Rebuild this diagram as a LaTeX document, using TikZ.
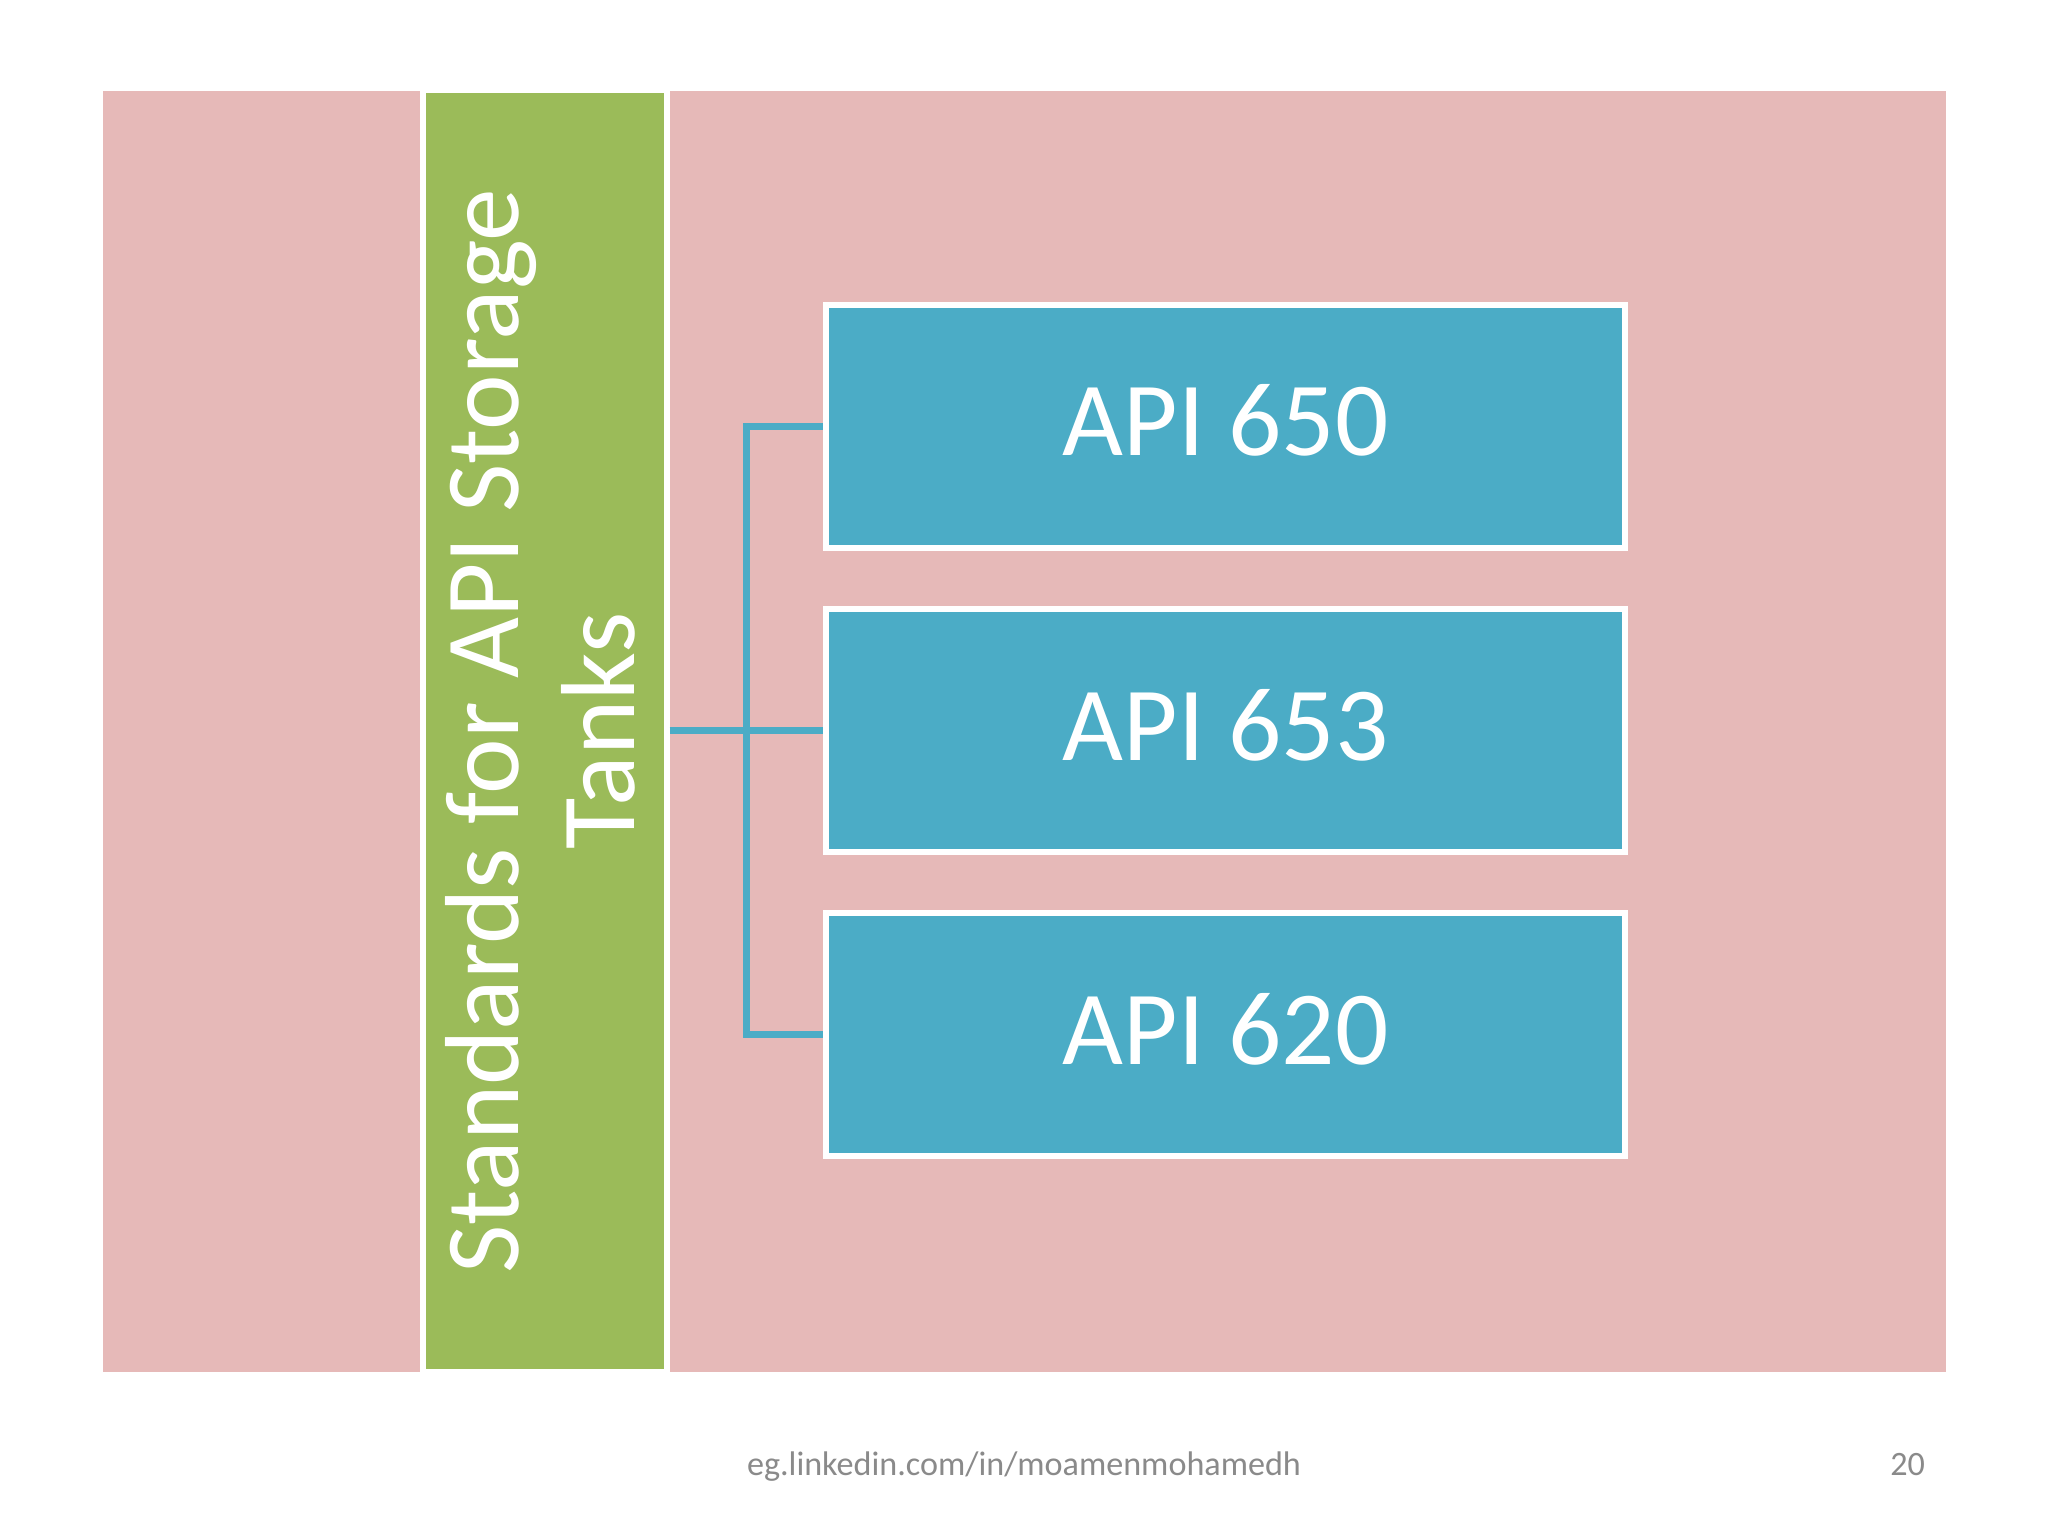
\documentclass[tikz,border=0pt]{standalone}
\usepackage{fontspec}
\setmainfont{Carlito}
\usetikzlibrary{fit}
\definecolor{pinkbg}{HTML}{E6B9B8}
\definecolor{greenbox}{HTML}{9BBB59}
\definecolor{bluebox}{HTML}{4BACC6}
\definecolor{footgray}{HTML}{8A8A8A}
\begin{document}
\begin{tikzpicture}[x=0.3515625pt,y=-0.3515625pt,
  panel/.style={draw=white, line width=6*0.3515625pt, inner sep=0pt, outer sep=0pt},
  greenpanel/.style={panel, fill=greenbox},
  stdbox/.style={panel, fill=bluebox},
  link/.style={draw=bluebox, line width=6.5*0.3515625pt},
  bigtext/.style={text=white, font=\fontsize{37}{42}\selectfont, inner sep=0pt, outer sep=0pt},
  foot/.style={text=footgray, font=\fontsize{12}{14}\selectfont, inner sep=0pt, outer sep=0pt}]
\useasboundingbox[fill=white] (0,0) rectangle (2048,1536);
% pink background panel
\node[fit={(102.5,91) (1946,1371.5)}, inner sep=0pt, outer sep=0pt, fill=pinkbg] (bg) {};
% green title panel
\node[greenpanel, fit={(423,90) (666.5,1372)}] (green) {};
\node[bigtext, rotate=90, anchor=base] (title1) at (518,731) {Standards for API Storage};
\node[bigtext, rotate=90, anchor=base] (title2) at (634,731) {Tanks};
% blue boxes
\node[stdbox, fit={(826,305) (1625,548)}] (b1) {};
\node[stdbox, fit={(826,609) (1625,852)}] (b2) {};
\node[stdbox, fit={(826,913) (1625,1156)}] (b3) {};
\node[bigtext, anchor=base] (t1) at (1225.5,456) {API 650};
\node[bigtext, anchor=base] (t2) at (1225.5,760) {API 653};
\node[bigtext, anchor=base] (t3) at (1225.5,1064) {API 620};
% connectors
\coordinate (j) at (746.5,730.5);
\draw[link, shorten <=3*0.3515625pt, shorten >=3*0.3515625pt] (green.east |- b2.west) -- (b2.west);
\draw[link, shorten >=3*0.3515625pt] (j) |- (b1.west);
\draw[link, shorten >=3*0.3515625pt] (j) |- (b3.west);
% footer
\node[foot, anchor=base west] (url) at (747,1475) {eg.linkedin.com/in/moamenmohamedh};
\node[foot, anchor=base east] (page) at (1925,1475) {20};
\end{tikzpicture}
\end{document}
